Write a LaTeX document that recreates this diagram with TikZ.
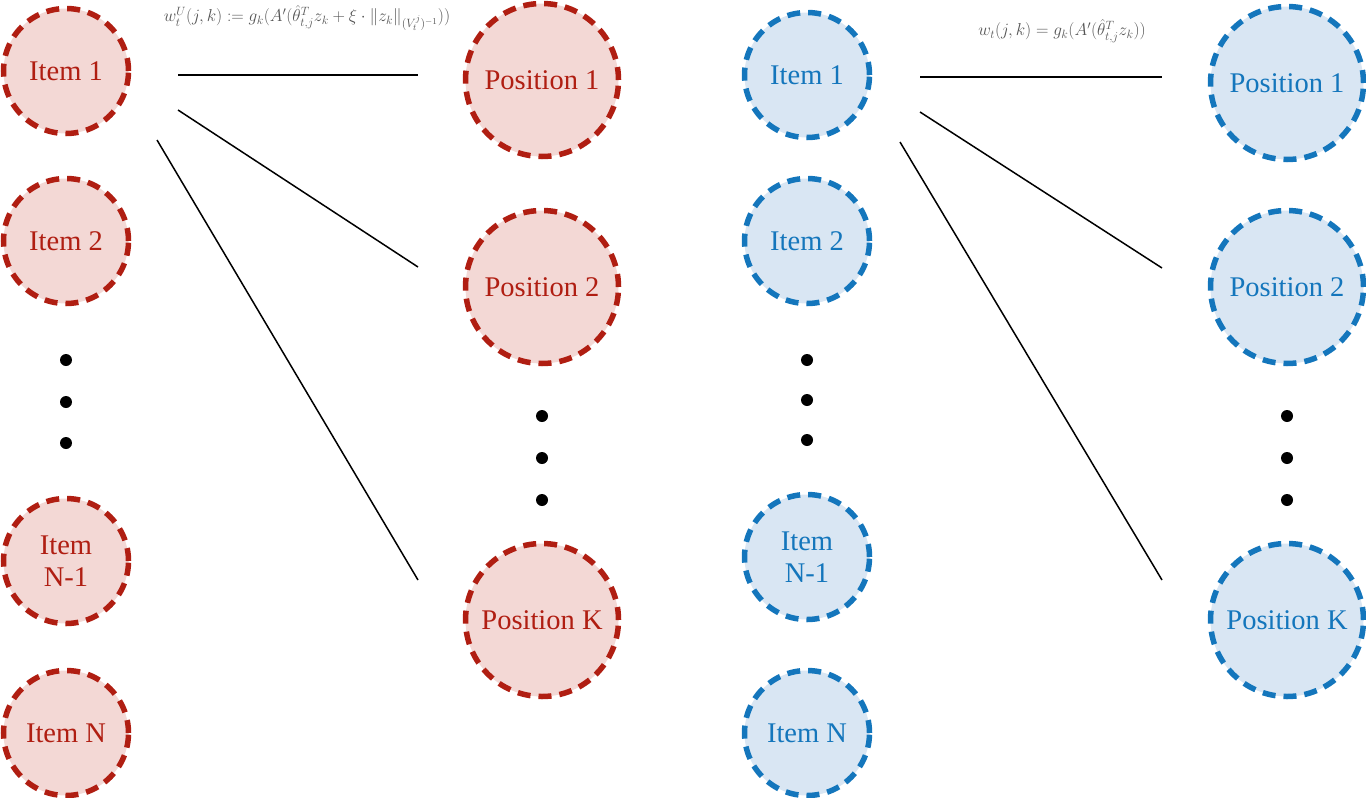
\documentclass[tikz,border=0pt]{standalone}
\usepackage{fontspec}
\setmainfont{Liberation Serif}
\definecolor{rfill}{RGB}{243,216,213}
\definecolor{rdraw}{RGB}{176,30,18}
\definecolor{bfill}{RGB}{217,230,243}
\definecolor{bdraw}{RGB}{20,118,188}
\definecolor{formgray}{RGB}{85,85,85}
\tikzset{
  redsmall/.style={circle, fill=rfill, draw=rdraw, line width=5.5pt, dash pattern=on 13pt off 8pt, minimum size=125pt, inner sep=0pt, text=rdraw, font=\fontsize{28.5}{32}\selectfont, align=center},
  redbig/.style={redsmall, minimum size=153pt},
  bluesmall/.style={circle, fill=bfill, draw=bdraw, line width=5.5pt, dash pattern=on 13pt off 8pt, minimum size=125pt, inner sep=0pt, text=bdraw, font=\fontsize{28.5}{32}\selectfont, align=center},
  bluebig/.style={bluesmall, minimum size=153pt},
  dotnode/.style={circle, fill=black, minimum size=12pt, inner sep=0pt},
  conn/.style={line width=1.5pt, black},
  formula/.style={text=formgray, font=\fontsize{17.5}{20}\selectfont}
}
\begin{document}
\begin{tikzpicture}[x=1pt,y=-1pt]
\useasboundingbox (0,0) rectangle (1366,798);
% left
\node[redsmall] (li1) at (66,71) {Item 1};
\node[redsmall] (li2) at (66,241) {Item 2};
\node[dotnode] (ld1) at (66,360) {};
\node[dotnode] (ld2) at (66,402) {};
\node[dotnode] (ld3) at (66,443) {};
\node[redsmall] (li3) at (66,561) {Item\\N-1};
\node[redsmall] (li4) at (66,733) {Item N};
\node[redbig] (lp1) at (542,80) {Position 1};
\node[redbig] (lp2) at (542,287) {Position 2};
\node[dotnode] (le1) at (542,416) {};
\node[dotnode] (le2) at (542,458) {};
\node[dotnode] (le3) at (542,500) {};
\node[redbig] (lp3) at (542,620) {Position K};
\coordinate (la1) at (178,75);
\coordinate (lb1) at (418,75);
\coordinate (la2) at (178,110);
\coordinate (lb2) at (418,267);
\coordinate (la3) at (157,140);
\coordinate (lb3) at (418,580);
\draw[conn] (la1) -- (lb1);
\draw[conn] (la2) -- (lb2);
\draw[conn] (la3) -- (lb3);
\node[formula] (lf) at (307,18) {$w_t^U(j,k) := g_k(A'(\hat{\theta}_{t,j}^T z_k + \xi \cdot \|z_k\|_{(V_t^j)^{-1}}))$};
% right
\node[bluesmall] (ri1) at (807,75) {Item 1};
\node[bluesmall] (ri2) at (807,241) {Item 2};
\node[dotnode] (rd1) at (807,360) {};
\node[dotnode] (rd2) at (807,400) {};
\node[dotnode] (rd3) at (807,440) {};
\node[bluesmall] (ri3) at (807,557) {Item\\N-1};
\node[bluesmall] (ri4) at (807,733) {Item N};
\node[bluebig] (rp1) at (1287,83) {Position 1};
\node[bluebig] (rp2) at (1287,287) {Position 2};
\node[dotnode] (re1) at (1287,416) {};
\node[dotnode] (re2) at (1287,458) {};
\node[dotnode] (re3) at (1287,500) {};
\node[bluebig] (rp3) at (1287,620) {Position K};
\coordinate (ra1) at (920,77);
\coordinate (rb1) at (1162,77);
\coordinate (ra2) at (920,112);
\coordinate (rb2) at (1162,268);
\coordinate (ra3) at (900,142);
\coordinate (rb3) at (1162,580);
\draw[conn] (ra1) -- (rb1);
\draw[conn] (ra2) -- (rb2);
\draw[conn] (ra3) -- (rb3);
\node[formula] (rf) at (1062,31) {$w_t(j,k) = g_k(A'(\hat{\theta}_{t,j}^T z_k))$};
\end{tikzpicture}
\end{document}
